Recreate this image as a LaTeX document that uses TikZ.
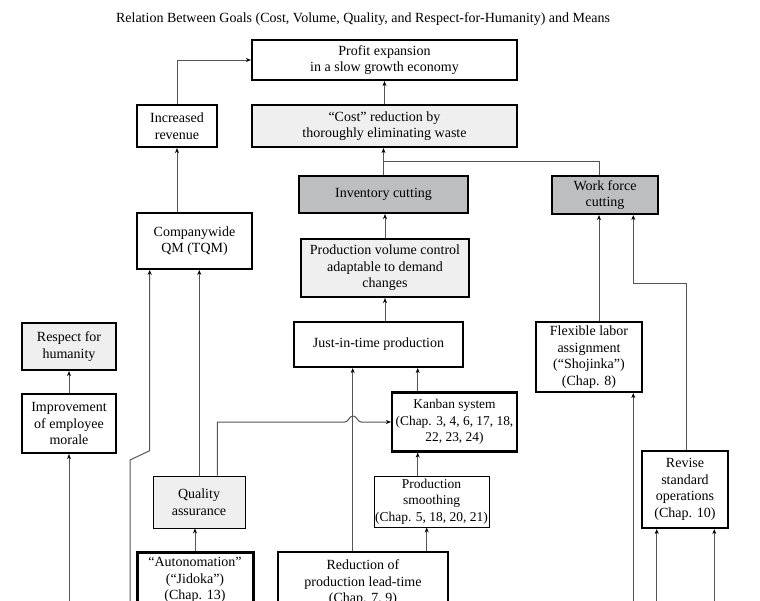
\documentclass[tikz,border=0pt]{standalone}
\usepackage{fontspec}
\setmainfont{Liberation Serif}
\usetikzlibrary{arrows.meta}
\definecolor{lgray}{HTML}{EFEFEF}
\definecolor{dgray}{HTML}{BDBEC0}
\definecolor{lnc}{HTML}{555555}
\begin{document}
\begin{tikzpicture}[x=1pt,y=-1pt,
  box/.style={draw=black, line width=2.2pt, align=center, inner sep=0pt, fill=white,
    font=\fontsize{14}{16.5}\selectfont},
  thinbox/.style={box, line width=0.9pt},
  lfill/.style={fill=lgray},
  dfill/.style={fill=dgray},
  conn/.style={draw=lnc, line width=1pt},
  arr/.style={conn, -{Stealth[length=5pt,width=4pt,color=black]}},
]
\useasboundingbox (0,0) rectangle (760,600);
\clip (0,0) rectangle (760,600);
\fill[white] (0,0) rectangle (760,600);

\node[font=\fontsize{14}{16}\selectfont] (title) at (363,19)
  {Relation Between Goals (Cost, Volume, Quality, and Respect-for-Humanity) and Means};

\node[box, minimum width=265, minimum height=40] (profit) at (384.5,60)
  {Profit expansion\\in a slow growth economy};
\node[box, minimum width=80, minimum height=42] (revenue) at (177,126)
  {Increased\\revenue};
\node[box, lfill, minimum width=265, minimum height=42] (cost) at (384.5,126)
  {“Cost” reduction by\\thoroughly eliminating waste};
\node[box, dfill, minimum width=169, minimum height=37] (inv) at (383.5,194.5)
  {Inventory cutting};
\node[box, dfill, minimum width=106, minimum height=38] (wf) at (605,195)
  {Work force\\cutting};
\node[box, lfill, minimum width=168, minimum height=58] (pvc) at (385,268)
  {Production volume control\\adaptable to demand\\changes};
\node[box, minimum width=169, minimum height=45] (jit) at (378.5,344.5)
  {Just-in-time production};
\node[box, line width=1.8pt, minimum width=115, minimum height=56] (tqm) at (194.5,241)
  {Companywide\\QM (TQM)};
\node[box, lfill, minimum width=94, minimum height=47] (rfh) at (69,346.5)
  {Respect for\\humanity};
\node[box, minimum width=94, minimum height=59] (morale) at (69,423.5)
  {Improvement\\of employee\\morale};
\node[thinbox, lfill, minimum width=92, minimum height=52] (qa) at (199,502)
  {Quality\\assurance};
\node[box, font=\fontsize{13.4}{16.5}\selectfont, minimum width=125, minimum height=59] (kanban) at (454.5,422)
  {Kanban system\\(Chap. 3, 4, 6, 17, 18,\\22, 23, 24)};
\node[thinbox, font=\fontsize{13.5}{16.5}\selectfont, minimum width=115, minimum height=51] (ps) at (431.5,501.5)
  {Production\\smoothing\\(Chap. 5, 18, 20, 21)};
\node[box, minimum width=170, minimum height=61.4] (rlt) at (363,582.7)
  {Reduction of\\production lead-time\\(Chap. 7, 9)};
\node[box, line width=3pt, minimum width=116, minimum height=56] (auto) at (195,580)
  {“Autonomation”\\(“Jidoka”)\\(Chap. 13)};
\node[box, minimum width=106, minimum height=70] (flex) at (589,357)
  {Flexible labor\\assignment\\(“Shojinka”)\\(Chap. 8)};
\node[box, minimum width=86, minimum height=77] (rso) at (685,489.5)
  {Revise\\standard\\operations\\(Chap. 10)};

% named helper coordinates
\coordinate (j1) at (383.5,161.7);
\coordinate (wfn) at ([xshift=-6pt]wf.north);
\coordinate (wfs1) at ([xshift=-6pt]wf.south);
\coordinate (wfs2) at ([xshift=28.3pt]wf.south);
\coordinate (flexn) at ([xshift=10pt]flex.north);
\coordinate (rson) at ([xshift=1pt]rso.north);
\coordinate (tqmn) at ([xshift=-17.5pt]tqm.north);
\coordinate (tqms1) at ([xshift=-44.8pt]tqm.south);
\coordinate (tqms2) at ([xshift=4.8pt]tqm.south);
\coordinate (qan1) at ([xshift=0.3pt]qa.north);
\coordinate (qan2) at ([xshift=18.3pt]qa.north);
\coordinate (jitn) at ([xshift=6.5pt]jit.north);
\coordinate (kn) at ([xshift=-36.8pt]kanban.north);
\coordinate (psn) at ([xshift=-13.8pt]ps.north);
\coordinate (rltn1) at ([xshift=-10.3pt]rlt.north);
\coordinate (rltn2) at ([xshift=63.7pt]rlt.north);
\coordinate (mb) at (69,605);
\coordinate (lb) at (130,605);
\coordinate (fb) at (633.3,605);
\coordinate (rb1) at (656.7,605);
\coordinate (rb2) at (714.3,605);

% connectors
\draw[arr] (cost.north) -- (profit.south);
\draw[arr] (revenue.north) |- (profit.west);
\draw[arr] (inv.north) -- (inv.north |- cost.south);
\draw[conn] (wfn) |- (j1);
\draw[arr] (jitn) -- (jitn |- pvc.south);
\draw[arr] (pvc.north) -- (pvc.north |- inv.south);
\draw[arr] (tqmn) -- (tqmn |- revenue.south);
\draw[arr] (morale.north) -- (rfh.south);
\draw[arr] (mb) -- (morale.south);
\draw[arr] (lb) -- (130,460) -- (149.7,450.7) -- (tqms1);
\draw[arr] (qan1) -- (tqms2);
\draw[arr] (qan2) |- (345,422) .. controls (348.5,422) and (349,416) .. (353,416)
  .. controls (357,416) and (357.5,422) .. (361,422) -- (kanban.west);
\draw[arr] (auto.north) -- (auto.north |- qa.south);
\draw[arr] (rltn1) -- (rltn1 |- jit.south);
\draw[arr] (rltn2) -- (rltn2 |- ps.south);
\draw[arr] (psn) -- (psn |- kanban.south);
\draw[arr] (kn) -- (kn |- jit.south);
\draw[arr] (flexn) -- (wfs1);
\draw[arr] (fb) -- (fb |- flex.south);
\draw[arr] (rson) |- (633.3,283.3) -- (wfs2);
\draw[arr] (rb1) -- (rb1 |- rso.south);
\draw[arr] (rb2) -- (rb2 |- rso.south);
\end{tikzpicture}
\end{document}
